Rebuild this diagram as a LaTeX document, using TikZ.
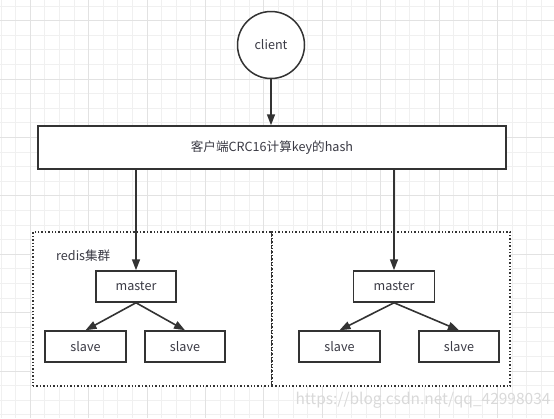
\documentclass[tikz,border=0pt]{standalone}
\usepackage{fontspec}
\setmainfont{Noto Sans CJK SC}
\usetikzlibrary{arrows.meta}
\definecolor{ink}{HTML}{333333}
\definecolor{txt}{HTML}{3A3A44}
\definecolor{gminor}{HTML}{F0F0F0}
\definecolor{gmajor}{HTML}{E2E2E2}
\definecolor{wmark}{HTML}{D9D9D9}
\tikzset{
  gridminor/.style={draw=gminor, line width=0.8pt},
  gridmajor/.style={draw=gmajor, line width=0.9pt},
  boxnode/.style={draw=ink, line width=1.5pt, fill=white, rectangle, inner sep=0pt,
    text=txt, font=\fontsize{12.6}{14}\selectfont},
  circnode/.style={draw=ink, line width=1.5pt, fill=white, circle, inner sep=0pt,
    minimum size=67pt, text=txt, font=\fontsize{12.6}{14}\selectfont},
  clusterbox/.style={draw=ink, line width=1.4pt, dotted, fill=white, rectangle,
    inner sep=0pt, minimum width=238pt, minimum height=154pt},
  conn/.style={draw=ink, line width=1.6pt, -{Triangle[length=11pt,width=8pt]}},
}
\begin{document}
\begin{tikzpicture}[x=1pt,y=-1pt]
\useasboundingbox (0,0) rectangle (554,418);
\fill[white] (0,0) rectangle (554,418);
% background grid
\foreach \i in {0,...,38} {
  \draw[gridminor] ({1+14.6*\i},0) -- ({1+14.6*\i},418);
}
\foreach \i in {0,...,29} {
  \draw[gridminor] (0,{6+14.6*\i}) -- (554,{6+14.6*\i});
}
\foreach \i in {0,...,9} {
  \draw[gridmajor] ({30.2+58.4*\i},0) -- ({30.2+58.4*\i},418);
}
\foreach \i in {0,...,7} {
  \draw[gridmajor] (0,{20.6+58.4*\i}) -- (554,{20.6+58.4*\i});
}
% clusters
\node[clusterbox, minimum width=239pt] (cl1) at (152.5,309) {};
\node[clusterbox] (cl2) at (391,309) {};
\node[anchor=west, text=txt, font=\fontsize{12.6}{14}\selectfont, inner sep=0pt] (lbl) at (56,256) {redis集群};
% main nodes
\node[circnode] (client) at (271,45) {client};
\node[boxnode, minimum width=468pt, minimum height=43pt] (hash) at (272,147.5) {客户端CRC16计算key的hash};
\node[boxnode, minimum width=80pt, minimum height=31pt] (m1) at (136,286.5) {master};
\node[boxnode, minimum width=81pt, minimum height=31pt] (s1a) at (85.5,346.5) {slave};
\node[boxnode, minimum width=80pt, minimum height=31pt] (s1b) at (185,346.5) {slave};
\node[boxnode, minimum width=81pt, minimum height=31pt] (m2) at (394,286.5) {master};
\node[boxnode, minimum width=81pt, minimum height=31pt] (s2a) at (339.5,346.5) {slave};
\node[boxnode, minimum width=80pt, minimum height=31pt] (s2b) at (459,346.5) {slave};
% connectors
\draw[conn] (client.south) -- (hash.north -| client.south);
\draw[conn] (hash.south -| m1.north) -- (m1.north);
\draw[conn] (hash.south -| m2.north) -- (m2.north);
\draw[conn] (m1.south) -- (s1a.north);
\draw[conn] (m1.south) -- (s1b.north);
\draw[conn] (m2.south) -- (s2a.north);
\draw[conn] (m2.south) -- (s2b.north);
% watermark
\node[text=wmark, font=\fontsize{15.5}{17}\selectfont, inner sep=0pt] (wm) at (423,400) {https://blog.csdn.net/qq\_42998034};
\end{tikzpicture}
\end{document}
